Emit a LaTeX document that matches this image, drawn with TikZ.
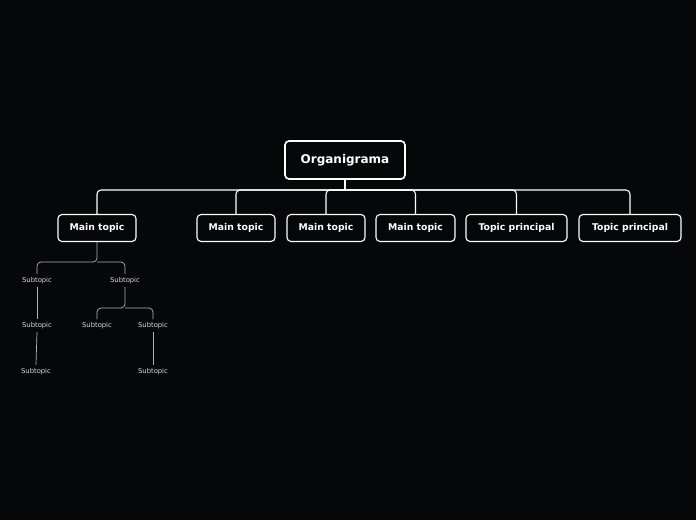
\documentclass[tikz,border=0pt]{standalone}
\usepackage{fontspec}
\setmainfont{DejaVu Sans}
\begin{document}
\begin{tikzpicture}[x=1pt,y=-1pt,
  rootbox/.style={draw=white,line width=1.6pt,rounded corners=4pt,text=white,font=\bfseries\fontsize{12}{14}\selectfont,minimum width=120pt,minimum height=38pt,inner sep=0pt},
  mainbox/.style={draw=white,line width=1.1pt,rounded corners=4pt,text=white,font=\bfseries\fontsize{9.3}{11}\selectfont,minimum height=27pt,inner xsep=8pt,inner ysep=0pt},
  subbox/.style={text=white!85!black,font=\fontsize{6.8}{8}\selectfont,inner sep=3pt},
  link/.style={draw=white,line width=1.1pt,rounded corners=4pt},
  slink/.style={draw=white!70!black,line width=0.7pt,rounded corners=4pt}]
\fill[fill={rgb,255:red,6;green,7;blue,9}] (0,0) rectangle (696,520);
\useasboundingbox (0,0) rectangle (696,520);
\node[rootbox] (root) at (345,160) {Organigrama};
\node[mainbox,minimum width=78pt] (m1) at (97,228) {Main topic};
\node[mainbox,minimum width=78pt] (m2) at (236,228) {Main topic};
\node[mainbox,minimum width=78pt] (m3) at (326,228) {Main topic};
\node[mainbox,minimum width=79pt] (m4) at (415.5,228) {Main topic};
\node[mainbox,minimum width=101pt] (m5) at (516.5,228) {Topic principal};
\node[mainbox,minimum width=102pt] (m6) at (630,228) {Topic principal};
\draw[white,line width=1.8pt] (root.south) -- (345,190);
\foreach \m in {m1,m2,m3,m4,m5,m6}
  \draw[link] (345,190) -| (\m.north);
\node[subbox] (s1) at (37,280.5) {Subtopic};
\node[subbox] (s2) at (125,280.5) {Subtopic};
\node[subbox] (s3) at (37,325.5) {Subtopic};
\node[subbox] (s4) at (97,325.5) {Subtopic};
\node[subbox] (s5) at (153,325.5) {Subtopic};
\node[subbox] (s6) at (36,371.5) {Subtopic};
\node[subbox] (s7) at (153,371.5) {Subtopic};
\draw[slink] (m1.south) -- (97,262) -| (s1.north);
\draw[slink] (97,262) -| (s2.north);
\draw[slink] (s2.south) -- (125,308) -| (s4.north);
\draw[slink] (125,308) -| (s5.north);
\draw[slink] (s1.south) -- (s3.north);
\draw[slink] (s3.south) -- (s6.north);
\draw[slink] (s5.south) -- (s7.north);
\end{tikzpicture}
\end{document}
